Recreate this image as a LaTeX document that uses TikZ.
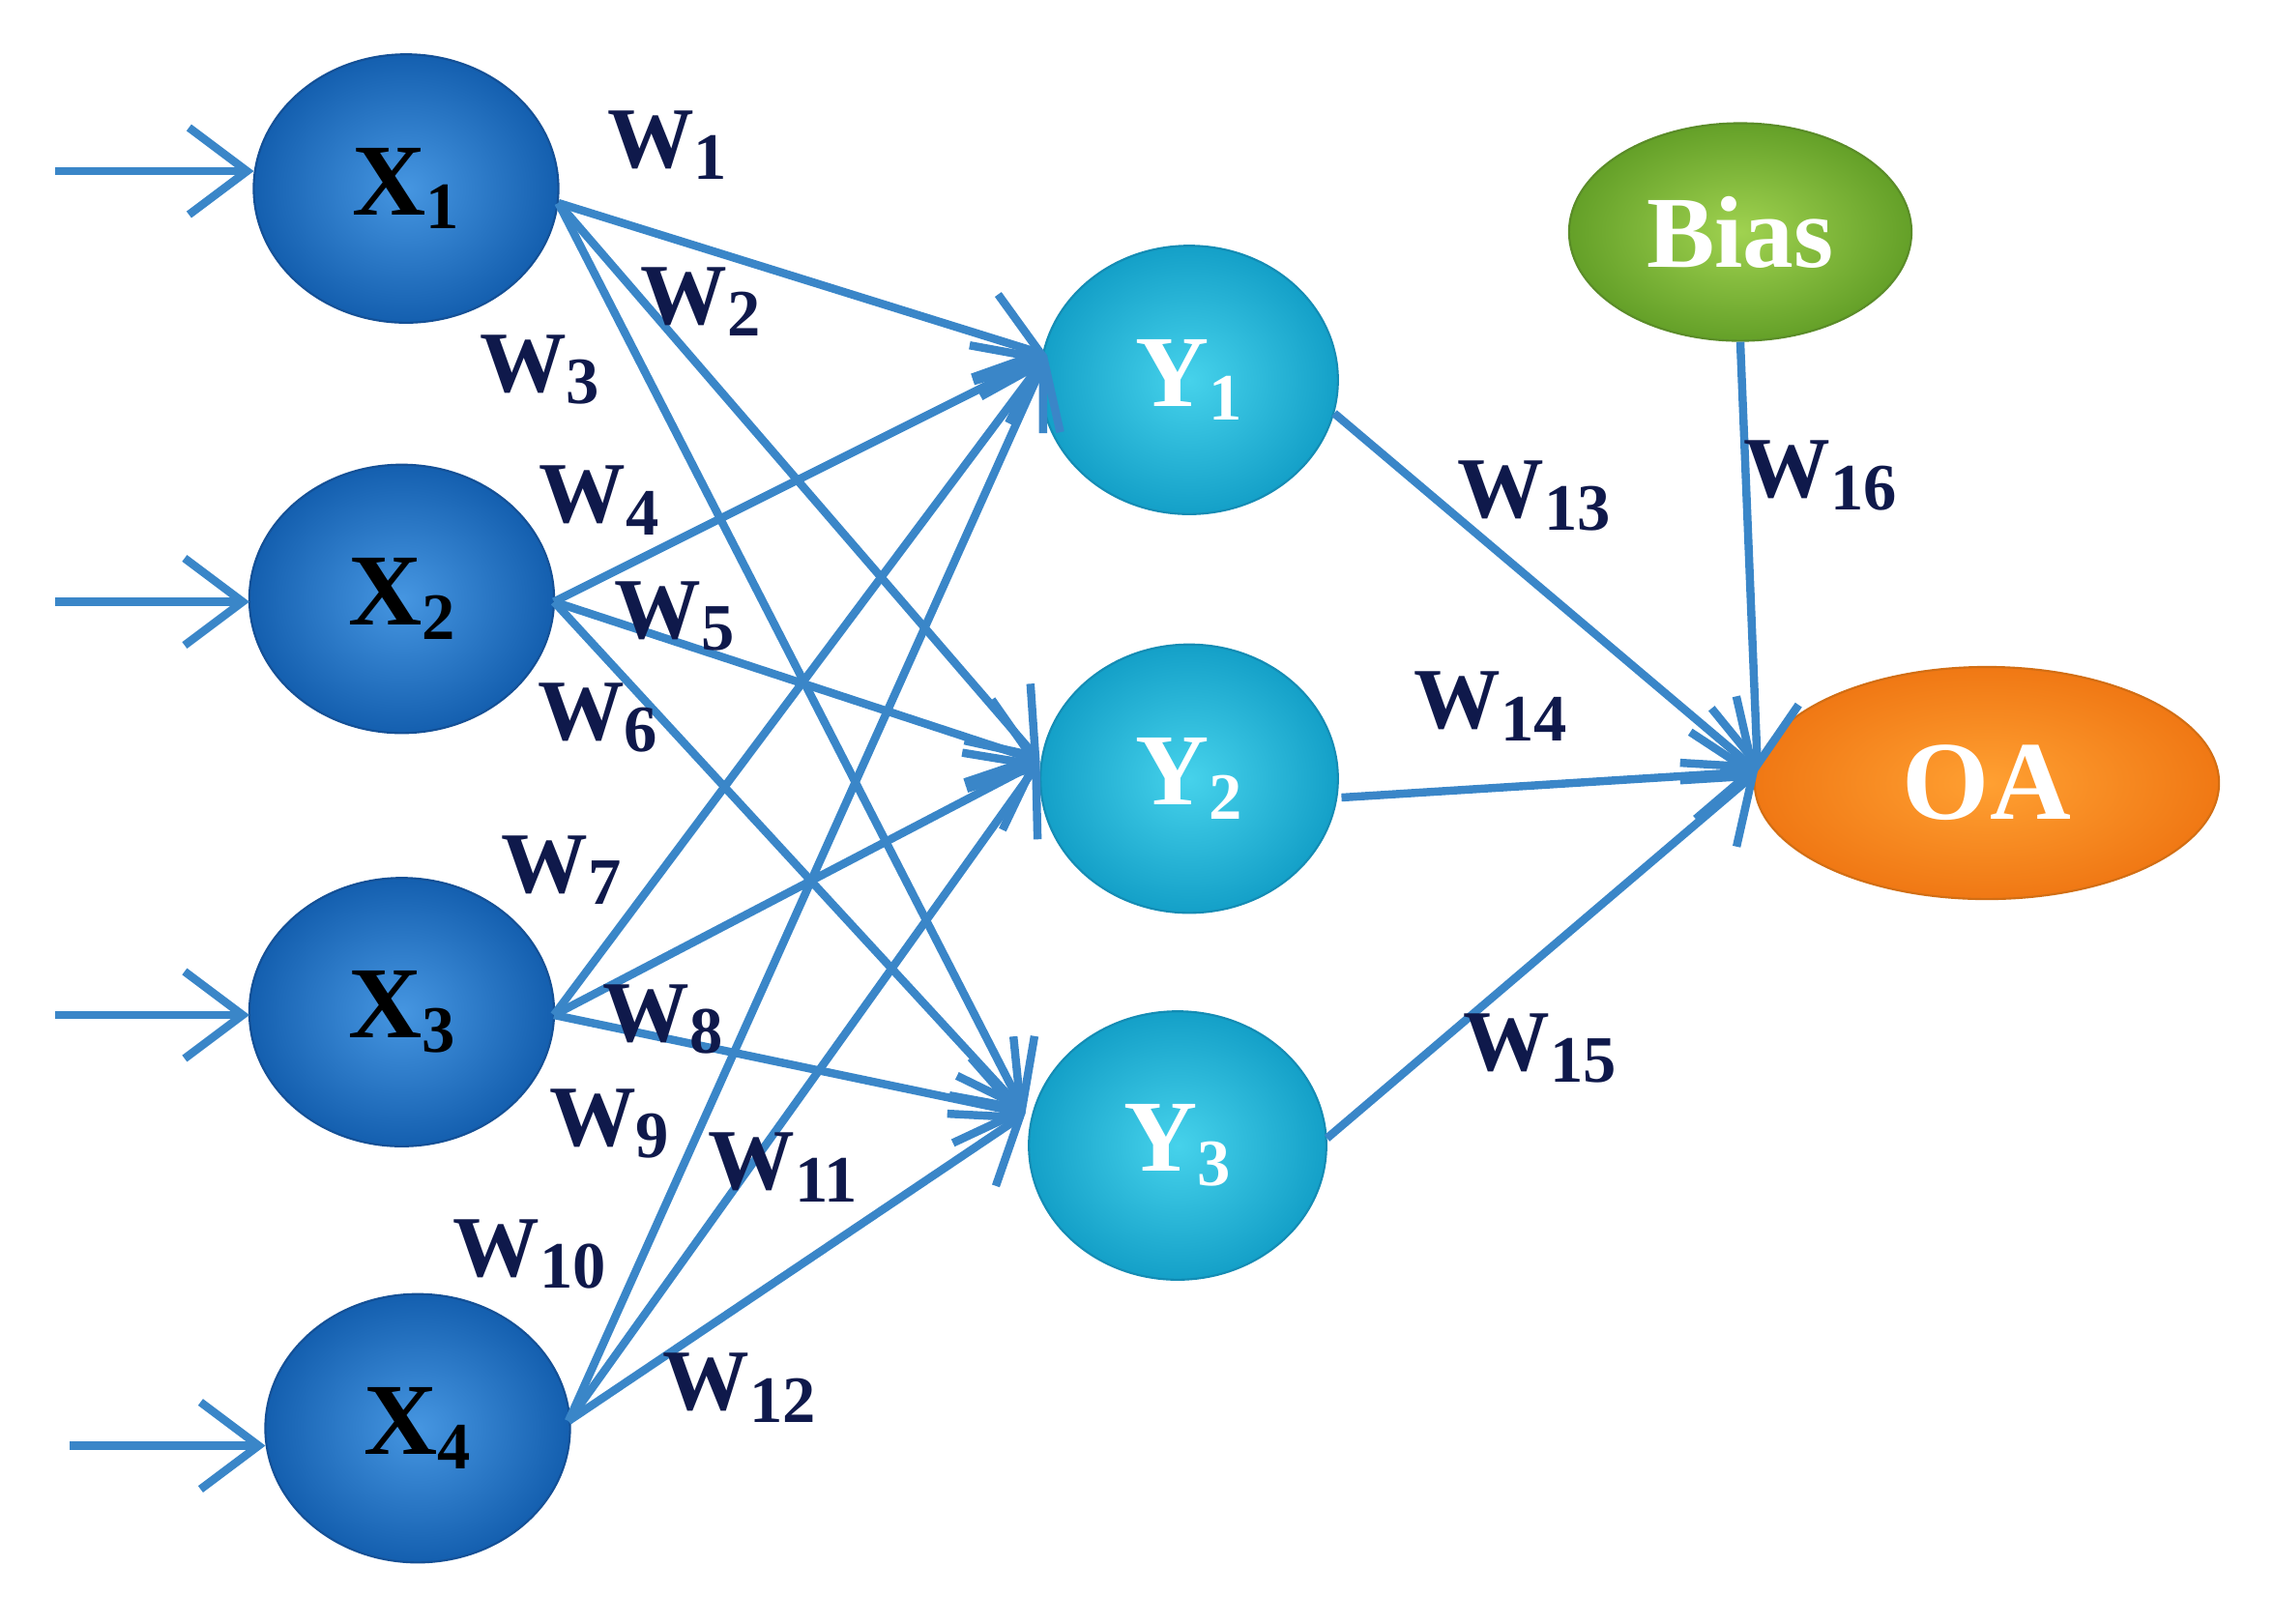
\documentclass[tikz,border=0pt]{standalone}
\usepackage{fontspec}
\setmainfont{Liberation Serif}
\usetikzlibrary{arrows.meta,shapes.geometric}
\definecolor{eb}{HTML}{3A86C8}
\tikzset{
 x=0.01cm,y=-0.01cm,
 xn/.style={ellipse,minimum width=2.1cm,minimum height=1.85cm,inner color={rgb,255:red,70;green,150;blue,225},outer color={rgb,255:red,20;green,95;blue,175},draw={rgb,255:red,20;green,80;blue,150},font=\fontsize{20}{22}\bfseries,text=black},
 yn/.style={ellipse,minimum width=2.05cm,minimum height=1.85cm,inner color={rgb,255:red,70;green,210;blue,235},outer color={rgb,255:red,20;green,160;blue,200},draw={rgb,255:red,20;green,140;blue,180},font=\fontsize{20}{22}\bfseries,text=white},
 e/.style={draw=eb,line width=1.6pt,-{Straight Barb[length=4mm,width=6mm,line width=1.6pt]}},
 w/.style={font=\fontsize{17}{20}\bfseries,text={rgb,255:red,15;green,25;blue,75}},
}
\newcommand{\sbx}[1]{\raisebox{-0.3ex}{\fontsize{13}{14}\selectfont #1}}
\begin{document}
\begin{tikzpicture}
\useasboundingbox (0,0) rectangle (1568,1120);
\node[xn] (x1) at (280,130) {X\sbx{1}};
\node[xn] (x2) at (277,413) {X\sbx{2}};
\node[xn] (x3) at (277,698) {X\sbx{3}};
\node[xn] (x4) at (288,985) {X\sbx{4}};
\node[yn] (y1) at (820,262) {Y\sbx{1}};
\node[yn] (y2) at (820,537) {Y\sbx{2}};
\node[yn] (y3) at (812,790) {Y\sbx{3}};
\node[ellipse,minimum width=2.36cm,minimum height=1.5cm,inner color={rgb,255:red,160;green,210;blue,80},outer color={rgb,255:red,100;green,160;blue,40},draw={rgb,255:red,90;green,140;blue,40},font=\fontsize{20}{22}\bfseries,text=white] (b) at (1200,160) {Bias};
\node[ellipse,minimum width=3.2cm,minimum height=1.6cm,inner color={rgb,255:red,255;green,160;blue,50},outer color={rgb,255:red,240;green,120;blue,20},draw={rgb,255:red,210;green,110;blue,20},font=\fontsize{22}{24}\bfseries,text=white] (oa) at (1370,540) {OA};
\coordinate (i1) at (38,118); \coordinate (i2) at (38,415);
\coordinate (i3) at (38,700); \coordinate (i4) at (48,997);
\draw[e] (i1) -- (175,118); \draw[e] (i2) -- (172,415);
\draw[e] (i3) -- (172,700); \draw[e] (i4) -- (183,997);
\coordinate (s1) at (385,140); \coordinate (s2) at (382,415);
\coordinate (s3) at (382,700); \coordinate (s4) at (392,980);
\coordinate (t1) at (722,245); \coordinate (t2) at (717,525);
\coordinate (t3) at (707,768); \coordinate (to) at (1212,532);
\foreach \s in {s1,s2,s3,s4}{\foreach \t in {t1,t2,t3}{\draw[e] (\s) -- (\t);}}
\draw[e] (920,285) -- (to);
\draw[e] (925,550) -- (to);
\draw[e] (915,785) -- (to);
\draw[e] (b.south) -- (to);
\node[w] at (460,100) {W\sbx{1}};
\node[w] at (483,208) {W\sbx{2}};
\node[w] at (372,255) {W\sbx{3}};
\node[w] at (413,345) {W\sbx{4}};
\node[w] at (465,425) {W\sbx{5}};
\node[w] at (412,495) {W\sbx{6}};
\node[w] at (387,600) {W\sbx{7}};
\node[w] at (457,703) {W\sbx{8}};
\node[w] at (420,775) {W\sbx{9}};
\node[w] at (365,865) {W\sbx{10}};
\node[w] at (540,805) {W\sbx{11}};
\node[w] at (510,957) {W\sbx{12}};
\node[w] at (1058,342) {W\sbx{13}};
\node[w] at (1028,487) {W\sbx{14}};
\node[w] at (1062,723) {W\sbx{15}};
\node[w] at (1255,328) {W\sbx{16}};
\end{tikzpicture}
\end{document}
